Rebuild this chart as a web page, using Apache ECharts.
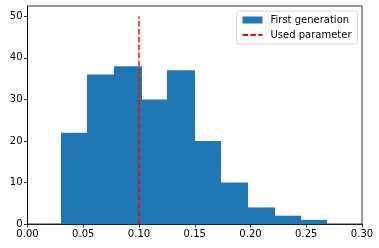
<!DOCTYPE html>
<html>
<head>
<meta charset="utf-8">
<script src="https://cdn.jsdelivr.net/npm/echarts@6/dist/echarts.min.js"></script>
<style>html,body{margin:0;padding:0;background:#fff}#c{width:379px;height:248px}</style>
</head>
<body>
<div id="c"></div>
<script>
const binEdges = [0.030, 0.0538, 0.0777, 0.1015, 0.1253, 0.1492, 0.1730, 0.1968, 0.2207, 0.2445, 0.2683];
const counts = [22, 36, 38, 30, 37, 20, 10, 4, 2, 1];
const usedParameter = 0.1;
const lineTop = 50;
const xTicks = [0, 0.05, 0.10, 0.15, 0.20, 0.25, 0.30];
const yTicks = [0, 10, 20, 30, 40, 50];

const histData = counts.map((c, i) => [binEdges[i], binEdges[i + 1], c]);
const font = 'DejaVu Sans';
const chart = echarts.init(document.getElementById('c'), null, {renderer: 'canvas'});
chart.setOption({
  animation: false,
  grid: {left: 27.5, right: 17, top: 6, bottom: 24, show: true, borderColor: '#000', borderWidth: 0.8, backgroundColor: 'transparent'},
  legend: {
    right: 21.5, top: 11, orient: 'vertical', itemGap: 5, itemWidth: 20, itemHeight: 7,
    padding: [4, 6, 4, 5], borderColor: '#cccccc', borderWidth: 0.8, borderRadius: 2.5,
    backgroundColor: 'rgba(255,255,255,0.8)',
    textStyle: {fontFamily: font, fontSize: 10, color: '#000', padding: [0, 0, 0, 3]},
    data: [
      {name: 'First generation', icon: 'rect'},
      {name: 'Used parameter', itemStyle: {opacity: 0}}
    ]
  },
  xAxis: {
    type: 'value', min: 0, max: 0.3, interval: 0.05,
    splitLine: {show: false},
    axisLine: {show: true, onZero: false, lineStyle: {color: '#000', width: 0.8}},
    axisTick: {show: true, length: 3.5, lineStyle: {color: '#000', width: 0.8}},
    axisLabel: {fontFamily: font, fontSize: 10, color: '#000', margin: 5, formatter: v => v.toFixed(2)}
  },
  yAxis: {
    type: 'value', min: 0, max: 52.5,
    splitLine: {show: false},
    axisLine: {show: true, lineStyle: {color: '#000', width: 0.8}},
    axisTick: {show: true, length: 3.5, customValues: yTicks, lineStyle: {color: '#000', width: 0.8}},
    axisLabel: {fontFamily: font, fontSize: 10, color: '#000', margin: 5, customValues: yTicks}
  },
  series: [
    {
      name: 'First generation', type: 'custom', data: histData,
      itemStyle: {color: '#1f77b4', borderWidth: 0},
      encode: {x: [0, 1], y: 2},
      renderItem: function (params, api) {
        const a = api.coord([api.value(0), 0]);
        const b = api.coord([api.value(1), api.value(2)]);
        const last = params.dataIndex === counts.length - 1;
        const x0 = Math.round(a[0]), x1 = Math.round(b[0]) + (last ? 0 : 1);
        return {type: 'polygon', shape: {points: [[x0, a[1]], [x0, b[1]], [x1, b[1]], [x1, a[1]]]},
          style: {fill: '#1f77b4'}};
      }
    },
    {
      name: 'Used parameter', type: 'line', data: [[usedParameter, 0], [usedParameter, lineTop]],
      symbol: 'none', z: 5,
      itemStyle: {color: '#ff0000'},
      lineStyle: {color: '#ff0000', width: 1.5, type: [5.5, 2.4]}
    }
  ]
});
</script>
</body>
</html>
